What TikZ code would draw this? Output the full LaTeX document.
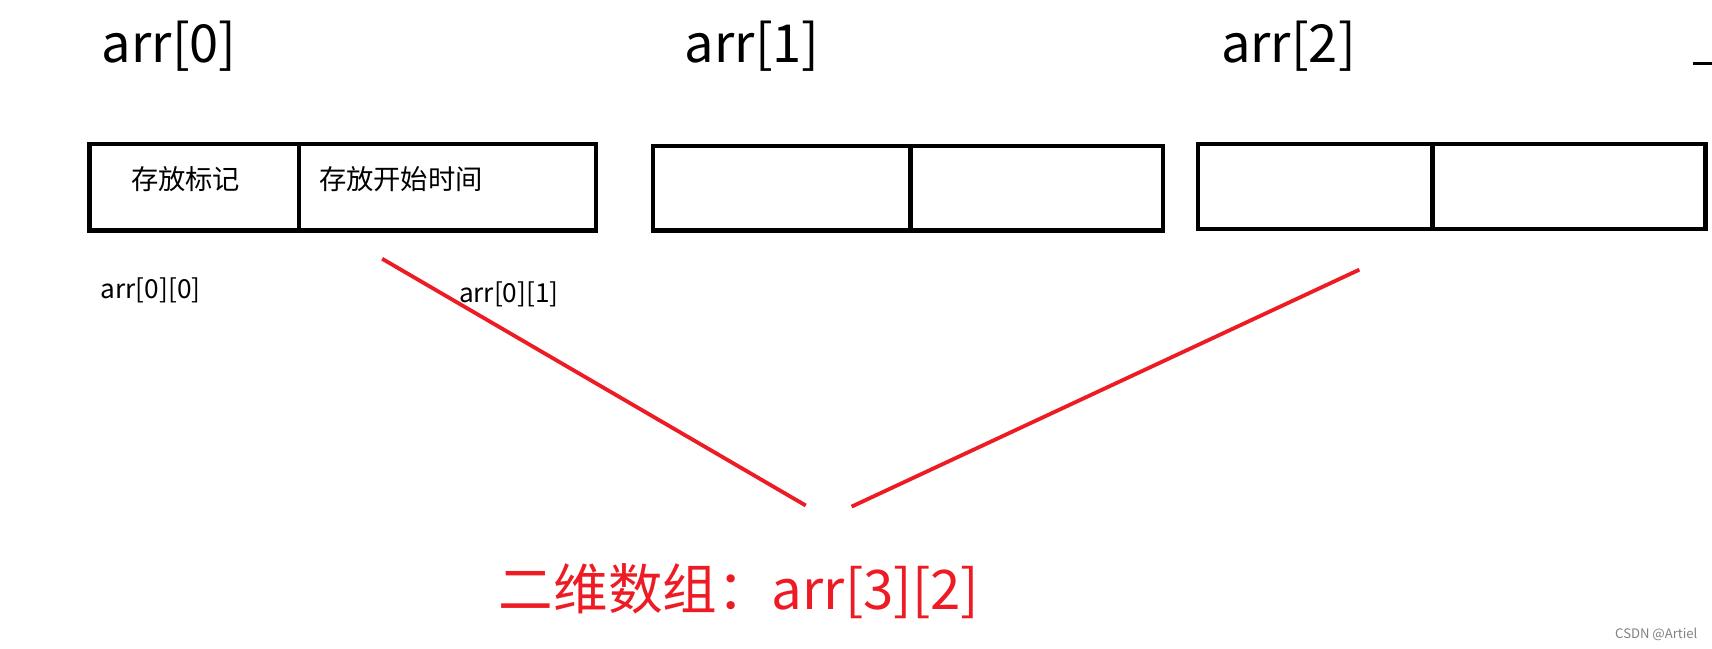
\documentclass[tikz,border=0pt]{standalone}
\usepackage{fontspec}
\setmainfont{Noto Sans CJK SC}
\begin{document}
\begin{tikzpicture}[x=1pt,y=-1pt,
  box/.style={draw=black,line width=4pt},
  red/.style={draw={rgb,255:red,237;green,28;blue,36},line width=3.5pt},
  big/.style={font=\fontsize{48}{54}\selectfont,inner sep=0},
  mid/.style={font=\fontsize{25}{28}\selectfont,inner sep=0},
  small/.style={font=\fontsize{24}{28}\selectfont,inner sep=0}]
\useasboundingbox (0,0) rectangle (1568,594);
\node[big] (t0) at (155,42) {arr[0]};
\node[big] (t1) at (689,42) {arr[1]};
\node[big] (t2) at (1180,42) {arr[2]};
\draw[line width=3pt] (1551,58) -- (1568,58);
\draw[box] (82,132) rectangle (546,211); \draw[box] (274,132) -- (274,211);
\draw[box] (598,134) rectangle (1065,211); \draw[box] (834,134) -- (834,211);
\draw[box] (1097,132) rectangle (1562,210); \draw[box] (1312,132) -- (1312,210);
\node[mid] (c0) at (170,164) {存放标记};
\node[mid,anchor=west] (c1) at (292,164) {存放开始时间};
\node[small] (l0) at (138,266) {arr[0][0]};
\node[small] (l1) at (466,270) {arr[0][1]};
\coordinate (a1) at (350,237); \coordinate (a2) at (738,463);
\coordinate (b1) at (1245,247); \coordinate (b2) at (780,464);
\draw[red] (a1) -- (a2);
\draw[red] (b1) -- (b2);
\node[big,font=\fontsize{50}{56}\selectfont,text={rgb,255:red,237;green,28;blue,36}] (title) at (677,541) {二维数组：arr[3][2]};
\node[font=\fontsize{12}{14}\selectfont,text=gray,inner sep=0] (wm) at (1517,581) {CSDN @Artiel};
\end{tikzpicture}
\end{document}
